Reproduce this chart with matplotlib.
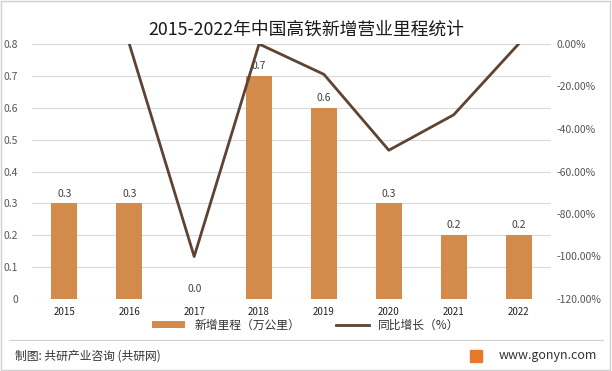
import numpy as np
import matplotlib.pyplot as plt
from matplotlib.patches import Rectangle

plt.rcParams['font.family'] = ['Noto Sans CJK SC', 'DejaVu Sans']

# 数据
years = ['2015', '2016', '2017', '2018', '2019', '2020', '2021', '2022']
new_km = [0.3, 0.3, 0.0, 0.7, 0.6, 0.3, 0.2, 0.2]
growth = [np.nan, 0.0, -100.0, 0.0, -14.29, -50.0, -33.33, 0.0]

bar_color = '#D38B4C'
line_color = '#5E4332'

fig = plt.figure(figsize=(6.12, 3.71), dpi=100)
ax = fig.add_axes([32 / 612, 1 - 299 / 371, 519 / 612, 255 / 371])
x = np.arange(len(years))

ax.bar(x, new_km, width=0.4, color=bar_color, zorder=2, label='新增里程（万公里）')
for xi, v in zip(x, new_km):
    ax.text(xi, v + 0.015, f'{v:.1f}', ha='center', va='bottom', fontsize=7.5, color='#404040')

ax.set_ylim(0, 0.8)
ax.set_xlim(-0.5, len(years) - 0.5)
ax.set_yticks(np.arange(0, 0.81, 0.1))
ax.set_yticklabels(['0'] + [f'{v:.1f}' for v in np.arange(0.1, 0.81, 0.1)])
ax.set_xticks(x)
ax.set_xticklabels(years, fontsize=7, color='#222222')
ax.tick_params(axis='y', labelsize=7.5, colors='#555555', length=0, pad=10)
ax.tick_params(axis='x', length=0, pad=6)
ax.grid(axis='y', color='#D9D9D9', linewidth=0.8, zorder=0)
for s in ax.spines.values():
    s.set_visible(False)

ax2 = ax.twinx()
ax2.plot(x, growth, color=line_color, linewidth=2, label='同比增长（%）', zorder=3)
ax2.set_ylim(-120, 0)
ax2.set_yticks(np.arange(-120, 1, 20))
ax2.set_yticklabels([f'{v:.2f}%' for v in np.arange(-120, 1, 20)])
ax2.tick_params(axis='y', labelsize=7.5, colors='#555555', length=0, pad=4)
for s in ax2.spines.values():
    s.set_visible(False)

# 标题
fig.text(0.5, 1 - 30 / 371, '2015-2022年中国高铁新增营业里程统计', ha='center', va='center',
         fontsize=12.8, color='#1a1a1a')

# 图例
h1, l1 = ax.get_legend_handles_labels()
h2, l2 = ax2.get_legend_handles_labels()
fig.legend(h1 + h2, l1 + l2, loc='center', bbox_to_anchor=(0.5, 1 - 325 / 371), ncol=2,
           frameon=False, fontsize=8.5, handlelength=2.8, handleheight=0.6, columnspacing=3,
           labelcolor='#333333')

# 底部
fig.add_artist(plt.Line2D([0.015, 0.985], [1 - 340 / 371, 1 - 340 / 371], color='#D0D0D0', linewidth=0.8))
fig.text(15 / 612, 1 - 356 / 371, '制图: 共研产业咨询 (共研网)', ha='left', va='center', fontsize=8.5, color='#333333')
fig.text(597 / 612, 1 - 356 / 371, 'www.gonyn.com', ha='right', va='center', fontsize=9, color='#333333')
fig.add_artist(Rectangle((470 / 612, 1 - 362 / 371), 12 / 612, 12 / 371, color='#E8792B'))

# 外框
fig.add_artist(Rectangle((0.002, 0.003), 0.995, 0.994, fill=False, edgecolor='#D0D0D0', linewidth=1))

fig.savefig('out.png', dpi=100)
